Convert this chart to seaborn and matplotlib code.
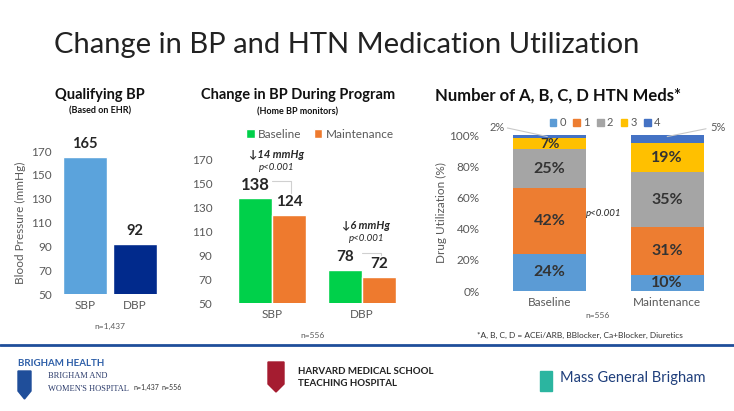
import pandas as pd
import numpy as np
import seaborn as sns
from matplotlib import pyplot as plt
from matplotlib.patches import Patch, Polygon, Rectangle

# --- data ---
qual_cats = ['SBP', 'DBP']
qual_vals = [165, 92]

prog_cats = ['SBP', 'DBP']
prog_periods = ['Baseline', 'Maintenance']
prog_baseline = [138, 78]
prog_maint = [124, 72]
prog_drop = ['↓14 mmHg', '↓6 mmHg']

med_periods = ['Baseline', 'Maintenance']
med_levels = ['0', '1', '2', '3', '4']
med_baseline = [24, 42, 25, 7, 2]
med_maint = [10, 31, 35, 19, 5]

sns.set_theme(style='white')
plt.rcParams['font.family'] = ['Lato', 'DejaVu Sans']

W, H = 734, 411
fig = plt.figure(figsize=(W / 100, H / 100), dpi=100)
fig.patch.set_facecolor('white')


def px(x, y):
    return x / W, 1 - y / H


def box(l, t, r, b):
    return [l / W, 1 - b / H, (r - l) / W, (b - t) / H]


grey = '#595959'
dark = '#262626'

fig.text(*px(347, 45), 'Change in BP and HTN Medication Utilization',
         ha='center', va='center', fontsize=21, color='#222222')

# --- panel 1: qualifying BP ---
ax1 = fig.add_axes(box(57.5, 151, 162.5, 294))
sns.barplot(x=qual_cats, y=qual_vals, hue=qual_cats,
            palette=['#5BA3DC', '#012A8C'], width=0.88, legend=False,
            saturation=1, ax=ax1)
ax1.set_ylim(50, 170)
ax1.set_xlim(-0.55, 1.55)
ax1.set_yticks(np.arange(50, 171, 20))
for i, v in enumerate(qual_vals):
    ax1.annotate(str(v), (i, v), xytext=(0, 4), textcoords='offset points',
                 ha='center', va='bottom', fontsize=10.5, fontweight='bold',
                 color=dark, annotation_clip=False)
ax1.set_ylabel('Blood Pressure (mmHg)', fontsize=8.5, color=grey, labelpad=4)
ax1.set_xlabel('n=1,437', fontsize=6, color=grey, labelpad=9)
fig.text(*px(100, 95), 'Qualifying BP', ha='center', va='center',
         fontsize=10.5, fontweight='bold', color='#111111')
fig.text(*px(100, 111), '(Based on EHR)', ha='center', va='center',
         fontsize=6.5, fontweight='bold', color='#111111')

# --- panel 2: change during program ---
prog = pd.DataFrame({
    'measure': prog_cats * 2,
    'period': [prog_periods[0]] * 2 + [prog_periods[1]] * 2,
    'bp': prog_baseline + prog_maint,
})
ax2 = fig.add_axes(box(218, 160, 407, 303))
sns.barplot(data=prog, x='measure', y='bp', hue='period',
            palette=['#00D04A', '#EE7A2E'], width=0.76, gap=0,
            saturation=1, ax=ax2)
ax2.set_ylim(50, 170)
ax2.set_xlim(-0.6, 1.5)
ax2.set_yticks(np.arange(50, 171, 20))
off = 0.19
for i in range(len(prog_cats)):
    b, m = prog_baseline[i], prog_maint[i]
    fs = 12 if i == 0 else 11
    ax2.annotate(str(b), (i - off, b), xytext=(0, 4), textcoords='offset points',
                 ha='center', va='bottom', fontsize=fs, fontweight='bold',
                 color=dark, annotation_clip=False)
    ax2.annotate(str(m), (i + off, m), xytext=(0, 4), textcoords='offset points',
                 ha='center', va='bottom', fontsize=11, fontweight='bold',
                 color=dark, annotation_clip=False)
    ax2.plot([i + 0.0, i + 0.21, i + 0.21], [b + 14, b + 14, m + 18],
             color='#d0d0d0', lw=0.8, clip_on=False)
    ax2.text(i + 0.05, b + 37, prog_drop[i], ha='center', va='center',
             fontsize=8, fontweight='bold', fontstyle='italic', color=dark)
    ax2.text(i + 0.05, b + 26, 'p<0.001', ha='center', va='center',
             fontsize=7, fontstyle='italic', color=dark)
ax2.set_ylabel('')
ax2.set_xlabel('n=556', fontsize=6, color=grey, labelpad=9)
handles, labels = ax2.get_legend_handles_labels()
ax2.legend(handles=handles, labels=labels, loc='center',
           bbox_to_anchor=px(320, 134), bbox_transform=fig.transFigure,
           ncol=2, frameon=False, fontsize=8.5, labelcolor=grey,
           handlelength=0.7, handleheight=0.7, handletextpad=0.3,
           columnspacing=1.0)
fig.text(*px(298, 95), 'Change in BP During Program', ha='center', va='center',
         fontsize=10.5, fontweight='bold', color='#111111')
fig.text(*px(298, 112), '(Home BP monitors)', ha='center', va='center',
         fontsize=6.5, fontweight='bold', color='#111111')

# --- panel 3: number of meds (stacked) ---
meds = pd.DataFrame({
    'period': [med_periods[0]] * 5 + [med_periods[1]] * 5,
    'level': med_levels * 2,
    'pct': med_baseline + med_maint,
})
med_colors = ['#5B9BD5', '#ED7D31', '#A5A5A5', '#FFC000', '#4472C4']
ax3 = fig.add_axes(box(485, 135, 726, 291))
# seaborn stacks the first hue level on top, so reverse the order
sns.histplot(data=meds, x='period', weights='pct', hue='level',
             hue_order=med_levels[::-1],
             palette=dict(zip(med_levels, med_colors)), multiple='stack',
             discrete=True, shrink=0.62, alpha=1, linewidth=0,
             legend=False, ax=ax3)
ax3.set_ylim(0, 100)
ax3.set_xlim(-0.55, 1.5)
ax3.set_yticks(np.arange(0, 101, 20))
ax3.set_yticklabels([f'{t}%' for t in range(0, 101, 20)])
for i, vals in enumerate([med_baseline, med_maint]):
    cum = np.cumsum([0] + vals)
    for k, v in enumerate(vals):
        if v >= 7:
            ax3.text(i, cum[k] + v / 2, f'{v}%', ha='center', va='center',
                     fontsize=11.5 if v >= 10 else 10, fontweight='bold',
                     color='#333333')
# outside labels for the thin top segments
ax3.text(-0.45, 105, f'{med_baseline[4]}%', ha='center', va='center',
         fontsize=8, color=grey, clip_on=False)
ax3.plot([-0.36, -0.02], [104.5, 99], color='#c8c8c8', lw=0.8, clip_on=False)
ax3.text(1.43, 104.5, f'{med_maint[4]}%', ha='center', va='center',
         fontsize=8, color=grey, clip_on=False)
ax3.plot([1.33, 1.0], [104, 99], color='#c8c8c8', lw=0.8, clip_on=False)
ax3.text(0.46, 50, 'p<0.001', ha='center', va='center', fontsize=7,
         fontstyle='italic', color=dark)
ax3.set_ylabel('Drug Utilization (%)', fontsize=8.5, color=grey, labelpad=2)
ax3.set_xlabel('')
ax3.legend(handles=[Patch(color=c) for c in med_colors], labels=med_levels,
           loc='center', bbox_to_anchor=px(605, 123),
           bbox_transform=fig.transFigure, ncol=5, frameon=False,
           fontsize=8, labelcolor=grey, handlelength=0.6, handleheight=0.6,
           handletextpad=0.25, columnspacing=0.7)
fig.text(*px(598, 315), 'n=556', ha='center', va='center', fontsize=6,
         color=grey)
fig.text(*px(580, 335), '*A, B, C, D = ACEi/ARB, BBlocker, Ca+Blocker, Diuretics',
         ha='center', va='center', fontsize=6, color='#333333')
fig.text(*px(558, 96), 'Number of A, B, C, D HTN Meds*', ha='center',
         va='center', fontsize=12, fontweight='bold', color='#111111')

for ax in (ax1, ax2, ax3):
    sns.despine(ax=ax, left=True, bottom=True)
    ax.tick_params(length=0, labelsize=8.5, labelcolor=grey, pad=4)
    ax.grid(False)

# --- footer ---
fig.add_artist(plt.Line2D([0, 1], [1 - 345 / H] * 2, color='#1F4E9A', lw=2))
fig.text(*px(18, 363), 'BRIGHAM HEALTH', ha='left', va='center',
         fontsize=7, fontweight='bold', color='#2E5FA8')
fig.add_artist(Polygon([px(18, 371), px(31, 371), px(31, 391), px(24.5, 399),
                        px(18, 391)], closed=True, color='#1F4E9A',
                       transform=fig.transFigure))
fig.text(*px(48, 376), 'BRIGHAM AND', ha='left', va='center', fontsize=6,
         family='Liberation Serif', color='#2a3a6a')
fig.text(*px(48, 389), "WOMEN'S HOSPITAL", ha='left', va='center',
         fontsize=6, family='Liberation Serif', color='#2a3a6a')
fig.text(*px(133, 387), 'n=1,437', ha='left', va='center', fontsize=5,
         color='#333333')
fig.text(*px(162, 387), 'n=556', ha='left', va='center', fontsize=5,
         color='#333333')
fig.add_artist(Polygon([px(268, 362), px(284, 362), px(284, 384), px(276, 392),
                        px(268, 384)], closed=True, color='#A51C30',
                       transform=fig.transFigure))
fig.text(*px(298, 371), 'HARVARD MEDICAL SCHOOL', ha='left', va='center',
         fontsize=7, fontweight='bold', color='#222222')
fig.text(*px(298, 383), 'TEACHING HOSPITAL', ha='left', va='center',
         fontsize=7, fontweight='bold', color='#222222')
fig.add_artist(Rectangle(px(540, 391), 12 / W, 20 / H, color='#2BB5A0',
                         transform=fig.transFigure))
fig.text(*px(560, 378), 'Mass General Brigham', ha='left', va='center',
         fontsize=10.5, color='#1E3E7B')

plt.savefig('out.png', dpi=100)
